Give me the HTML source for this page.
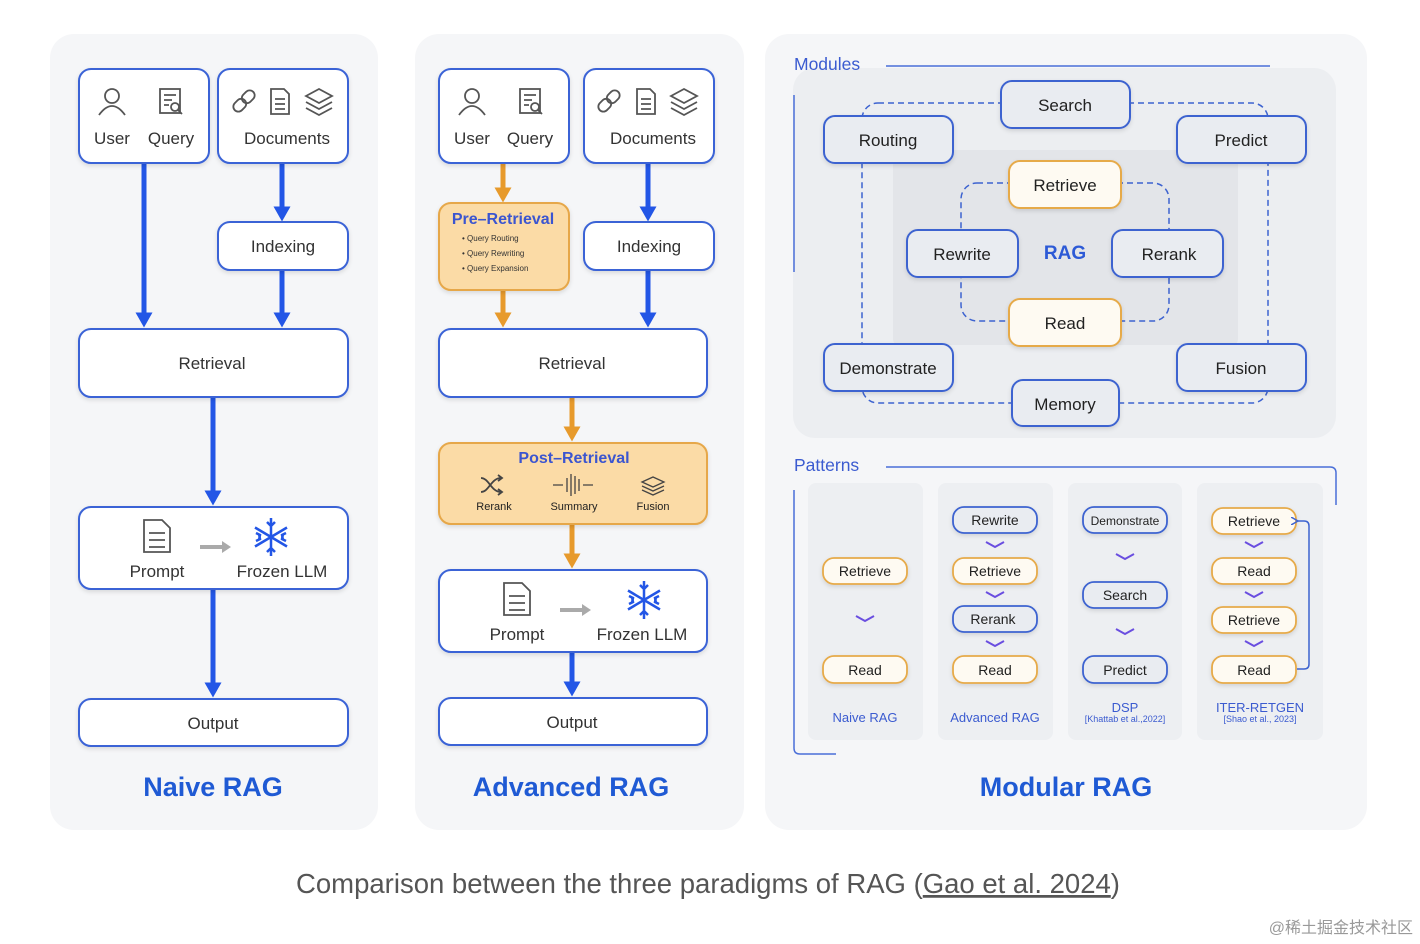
<!DOCTYPE html>
<html><head><meta charset="utf-8"><style>
html,body{margin:0;padding:0;background:#fff;}
svg{display:block;font-family:"Liberation Sans","Noto Sans CJK SC",sans-serif;}
</style></head><body>
<svg width="1420" height="944" viewBox="0 0 1420 944" xmlns="http://www.w3.org/2000/svg">
<defs>
<filter id="sh" x="-20%" y="-20%" width="140%" height="160%"><feDropShadow dx="0" dy="2" stdDeviation="2" flood-color="#000" flood-opacity="0.12"/></filter>
<marker id="ab" markerWidth="3" markerHeight="3.4" refX="1.5" refY="1.7" orient="auto" markerUnits="strokeWidth"><path d="M0,0 L3,1.7 L0,3.4 z" fill="#2356e6"/></marker>
<marker id="ao" markerWidth="3" markerHeight="3.4" refX="1.5" refY="1.7" orient="auto" markerUnits="strokeWidth"><path d="M0,0 L3,1.7 L0,3.4 z" fill="#e79a2c"/></marker>
<marker id="al" markerWidth="8" markerHeight="8" refX="1" refY="4" orient="auto" markerUnits="userSpaceOnUse"><path d="M8,0 L1,4 L8,8" fill="none" stroke="#3d63d0" stroke-width="1.5"/></marker>
</defs>
<rect width="1420" height="944" fill="#fff"/>
<rect x="50" y="34" width="328" height="796" rx="24" fill="#f5f6f8"/>
<rect x="415" y="34" width="329" height="796" rx="24" fill="#f5f6f8"/>
<rect x="765" y="34" width="602" height="796" rx="24" fill="#f5f6f8"/>

<g fill="none" stroke-width="5">
<line x1="144" y1="163" x2="144" y2="320" stroke="#2356e6" marker-end="url(#ab)"/>
<line x1="282" y1="163" x2="282" y2="214" stroke="#2356e6" marker-end="url(#ab)"/>
<line x1="282" y1="270" x2="282" y2="320" stroke="#2356e6" marker-end="url(#ab)"/>
<line x1="213" y1="397" x2="213" y2="498" stroke="#2356e6" marker-end="url(#ab)"/>
<line x1="213" y1="589" x2="213" y2="690" stroke="#2356e6" marker-end="url(#ab)"/>
<line x1="503" y1="163" x2="503" y2="195" stroke="#e79a2c" marker-end="url(#ao)"/>
<line x1="503" y1="290" x2="503" y2="320" stroke="#e79a2c" marker-end="url(#ao)"/>
<line x1="648" y1="163" x2="648" y2="214" stroke="#2356e6" marker-end="url(#ab)"/>
<line x1="648" y1="270" x2="648" y2="320" stroke="#2356e6" marker-end="url(#ab)"/>
<line x1="572" y1="397" x2="572" y2="434" stroke="#e79a2c" marker-end="url(#ao)"/>
<line x1="572" y1="524" x2="572" y2="561" stroke="#e79a2c" marker-end="url(#ao)"/>
<line x1="572" y1="652" x2="572" y2="689" stroke="#2356e6" marker-end="url(#ab)"/>
</g>

<g fill="#fff" stroke="#3a63d6" stroke-width="2" filter="url(#sh)">
<rect x="79" y="69" width="130" height="94" rx="12"/>
<rect x="218" y="69" width="130" height="94" rx="12"/>
<rect x="218" y="222" width="130" height="48" rx="12"/>
<rect x="79" y="329" width="269" height="68" rx="12"/>
<rect x="79" y="507" width="269" height="82" rx="12"/>
<rect x="79" y="699" width="269" height="47" rx="12"/>
<rect x="439" y="69" width="130" height="94" rx="12"/>
<rect x="584" y="69" width="130" height="94" rx="12"/>
<rect x="584" y="222" width="130" height="48" rx="12"/>
<rect x="439" y="329" width="268" height="68" rx="12"/>
<rect x="439" y="570" width="268" height="82" rx="12"/>
<rect x="439" y="698" width="268" height="47" rx="12"/>
</g>
<g fill="#fbdba6" stroke="#e6a748" stroke-width="2" filter="url(#sh)">
<rect x="439" y="203" width="130" height="87" rx="12"/>
<rect x="439" y="443" width="268" height="81" rx="12"/>
</g>

<g fill="none" stroke="#555" stroke-width="1.8">
 <g>
  <circle cx="112" cy="96" r="7"/><path d="M99,115 q13,-18 26,0"/>
  <rect x="160" y="89" width="20" height="24"/><path d="M164,95 h12 M164,100 h8 M164,105 h5"/><circle cx="175" cy="107" r="4"/><path d="M178,110 l4,4"/>
  <g transform="translate(244,101) rotate(-45)"><rect x="-13" y="-5" width="14" height="10" rx="5"/><rect x="-1" y="-5" width="14" height="10" rx="5"/></g>
  <path d="M271,89 h13 l5,5 v20 h-18 z M275,99 h10 M275,104 h10 M275,109 h10"/>
  <path d="M306,96 l13,-7 l13,7 l-13,7 z M306,102 l13,7 l13,-7 M306,108 l13,7 l13,-7"/>
 </g>
 <g transform="translate(360,0)">
  <circle cx="112" cy="96" r="7"/><path d="M99,115 q13,-18 26,0"/>
  <rect x="160" y="89" width="20" height="24"/><path d="M164,95 h12 M164,100 h8 M164,105 h5"/><circle cx="175" cy="107" r="4"/><path d="M178,110 l4,4"/>
  <g transform="translate(249,101) rotate(-45)"><rect x="-13" y="-5" width="14" height="10" rx="5"/><rect x="-1" y="-5" width="14" height="10" rx="5"/></g>
  <path d="M277,89 h13 l5,5 v20 h-18 z M281,99 h10 M281,104 h10 M281,109 h10"/>
  <path d="M311,96 l13,-7 l13,7 l-13,7 z M311,102 l13,7 l13,-7 M311,108 l13,7 l13,-7"/>
 </g>
 <path d="M144,520 h18 l8,8 v24 h-26 z M149,533 h16 M149,540 h16 M149,547 h16"/>
 <path d="M504,583 h18 l8,8 v24 h-26 z M509,596 h16 M509,603 h16 M509,610 h16"/>
 <path d="M481,478 c8,0 10,14 20,14 M481,492 c8,0 10,-14 20,-14 M498,475 l4,3 l-4,3 M498,489 l4,3 l-4,3" stroke="#444"/>
 <path d="M553,485 h10 M593,485 h-10 M567,478 v14 M571,474 v22 M575,476 v18 M579,479 v12" stroke="#444" stroke-width="1.3"/>
 <path d="M642,482 l11,-5 l11,5 l-11,5 z M642,486 l11,5 l11,-5 M642,490 l11,5 l11,-5" stroke="#444" stroke-width="1.3"/>
</g>
<g fill="#aaa"><rect x="200" y="545" width="22" height="4"/><path d="M222,541 l9,6 l-9,6z"/><rect x="560" y="608" width="22" height="4"/><path d="M582,604 l9,6 l-9,6z"/></g>
<g stroke="#2356e6" stroke-width="2.5" fill="none">
 <g transform="translate(271,537)"><path d="M0,-19 V19 M-16,-9.5 L16,9.5 M-16,9.5 L16,-9.5 M-4,-15 l4,4 l4,-4 M-4,15 l4,-4 l4,4 M-15,-4 l4,2 l-1,5 M15,4 l-4,-2 l1,-5 M15,-4 l-4,2 l1,5 M-15,4 l4,-2 l-1,-5"/></g>
 <g transform="translate(644,600)"><path d="M0,-19 V19 M-16,-9.5 L16,9.5 M-16,9.5 L16,-9.5 M-4,-15 l4,4 l4,-4 M-4,15 l4,-4 l4,4 M-15,-4 l4,2 l-1,5 M15,4 l-4,-2 l1,-5 M15,-4 l-4,2 l1,5 M-15,4 l4,-2 l-1,-5"/></g>
</g>

<g fill="#333" font-size="17" text-anchor="middle">
<text x="112" y="144">User</text><text x="171" y="144">Query</text><text x="287" y="144">Documents</text>
<text x="283" y="252">Indexing</text><text x="212" y="369">Retrieval</text>
<text x="157" y="577">Prompt</text><text x="282" y="577">Frozen LLM</text><text x="213" y="729">Output</text>
<text x="472" y="144">User</text><text x="530" y="144">Query</text><text x="653" y="144">Documents</text>
<text x="649" y="252">Indexing</text><text x="572" y="369">Retrieval</text>
<text x="517" y="640">Prompt</text><text x="642" y="640">Frozen LLM</text><text x="572" y="728">Output</text>
</g>
<g fill="#333" font-size="8">
<text x="462" y="241">• Query Routing</text><text x="462" y="256">• Query Rewriting</text><text x="462" y="271">• Query Expansion</text>
</g>
<g fill="#222" font-size="11" text-anchor="middle"><text x="494" y="510">Rerank</text><text x="574" y="510">Summary</text><text x="653" y="510">Fusion</text></g>
<g fill="#3b55d0" font-size="16" font-weight="bold" text-anchor="middle"><text x="503" y="224">Pre–Retrieval</text><text x="574" y="463">Post–Retrieval</text></g>
<g fill="#1f5ad4" font-size="27" font-weight="bold" text-anchor="middle"><text x="213" y="796">Naive RAG</text><text x="571" y="796">Advanced RAG</text><text x="1066" y="796">Modular RAG</text></g>

<rect x="793" y="68" width="543" height="370" rx="22" fill="#eceef1"/>
<rect x="893" y="150" width="345" height="195" rx="6" fill="#e3e5e9"/>
<g stroke="#4a6fd8" stroke-width="1.5" fill="none">
<line x1="886" y1="66" x2="1270" y2="66"/><line x1="794" y1="95" x2="794" y2="272"/>
<line x1="886" y1="467" x2="1330" y2="467"/><path d="M1330,467 q6,0 6,6 v32"/>
<path d="M794,490 v258 q0,6 6,6 h36"/>
</g>
<g stroke="#3d63d0" stroke-width="1.5" fill="none" stroke-dasharray="6,4">
<rect x="862" y="103" width="406" height="300" rx="16"/>
<rect x="961" y="183" width="208" height="138" rx="16"/>
</g>
<g fill="#e9ecf1" stroke="#3d63d0" stroke-width="2" filter="url(#sh)">
<rect x="1001" y="81" width="129" height="47" rx="11"/>
<rect x="824" y="116" width="129" height="47" rx="11"/>
<rect x="1177" y="116" width="129" height="47" rx="11"/>
<rect x="824" y="344" width="129" height="47" rx="11"/>
<rect x="1177" y="344" width="129" height="47" rx="11"/>
<rect x="1012" y="380" width="107" height="46" rx="11"/>
<rect x="907" y="230" width="111" height="47" rx="11"/>
<rect x="1112" y="230" width="111" height="47" rx="11"/>
</g>
<g fill="#fefaf2" stroke="#e6aa4a" stroke-width="2" filter="url(#sh)">
<rect x="1009" y="161" width="112" height="47" rx="11"/>
<rect x="1009" y="299" width="112" height="47" rx="11"/>
</g>
<g fill="#222" font-size="17" text-anchor="middle">
<text x="1065" y="111">Search</text><text x="888" y="146">Routing</text><text x="1241" y="146">Predict</text>
<text x="888" y="374">Demonstrate</text><text x="1241" y="374">Fusion</text><text x="1065" y="410">Memory</text>
<text x="962" y="260">Rewrite</text><text x="1169" y="260">Rerank</text>
<text x="1065" y="191">Retrieve</text><text x="1065" y="329">Read</text>
</g>
<text x="1065" y="259" fill="#2d5ad6" font-size="19" font-weight="bold" text-anchor="middle">RAG</text>
<g fill="#3b5bd0" font-size="17.5"><text x="794" y="70">Modules</text><text x="794" y="471">Patterns</text></g>

<g fill="#edeff2">
<rect x="808" y="483" width="115" height="257" rx="8"/><rect x="938" y="483" width="115" height="257" rx="8"/>
<rect x="1068" y="483" width="114" height="257" rx="8"/><rect x="1197" y="483" width="126" height="257" rx="8"/>
</g>
<g stroke-width="1.8" filter="url(#sh)">
<g fill="#fefaf2" stroke="#e6aa4a">
<rect x="823" y="558" width="84" height="26" rx="11"/><rect x="823" y="656" width="84" height="27" rx="11"/>
<rect x="953" y="558" width="84" height="26" rx="11"/><rect x="953" y="656" width="84" height="27" rx="11"/>
<rect x="1212" y="508" width="84" height="26" rx="11"/><rect x="1212" y="558" width="84" height="26" rx="11"/>
<rect x="1212" y="607" width="84" height="26" rx="11"/><rect x="1212" y="656" width="84" height="27" rx="11"/>
</g>
<g fill="#e9ecf1" stroke="#3d63d0">
<rect x="953" y="507" width="84" height="26" rx="11"/><rect x="953" y="606" width="84" height="26" rx="11"/>
<rect x="1083" y="507" width="84" height="26" rx="11"/><rect x="1083" y="582" width="84" height="26" rx="11"/>
<rect x="1083" y="656" width="84" height="27" rx="11"/>
</g>
</g>
<g fill="none" stroke="#6a4ee0" stroke-width="2">
<path d="M856,616 l9,5 l9,-5"/>
<path d="M986,542 l9,5 l9,-5 M986,592 l9,5 l9,-5 M986,641 l9,5 l9,-5"/>
<path d="M1116,554 l9,5 l9,-5 M1116,629 l9,5 l9,-5"/>
<path d="M1245,542 l9,5 l9,-5 M1245,592 l9,5 l9,-5 M1245,641 l9,5 l9,-5"/>
</g>
<path d="M1297,669 h7 q5,0 5,-5 v-138 q0,-5 -5,-5 h-6" fill="none" stroke="#3d63d0" stroke-width="1.5" marker-end="url(#al)"/>
<g fill="#222" font-size="14" text-anchor="middle">
<text x="865" y="576">Retrieve</text><text x="865" y="675">Read</text>
<text x="995" y="525">Rewrite</text><text x="995" y="576">Retrieve</text><text x="993" y="624">Rerank</text><text x="995" y="675">Read</text>
<text x="1125" y="525" font-size="12">Demonstrate</text><text x="1125" y="600">Search</text><text x="1125" y="675">Predict</text>
<text x="1254" y="526">Retrieve</text><text x="1254" y="576">Read</text><text x="1254" y="625">Retrieve</text><text x="1254" y="675">Read</text>
</g>
<g fill="#3b5bd0" text-anchor="middle" font-size="13">
<text x="865" y="722">Naive RAG</text><text x="995" y="722">Advanced RAG</text>
<text x="1125" y="712">DSP</text><text x="1125" y="722" font-size="9">[Khattab et al.,2022]</text>
<text x="1260" y="712">ITER-RETGEN</text><text x="1260" y="722" font-size="9">[Shao et al., 2023]</text>
</g>

<text x="708" y="893" fill="#555" font-size="27.5" text-anchor="middle">Comparison between the three paradigms of RAG (<tspan text-decoration="underline">Gao et al. 2024</tspan>)</text>
<text x="1413" y="933" fill="#999" font-size="16" text-anchor="end">@稀土掘金技术社区</text>
</svg>
</body></html>
